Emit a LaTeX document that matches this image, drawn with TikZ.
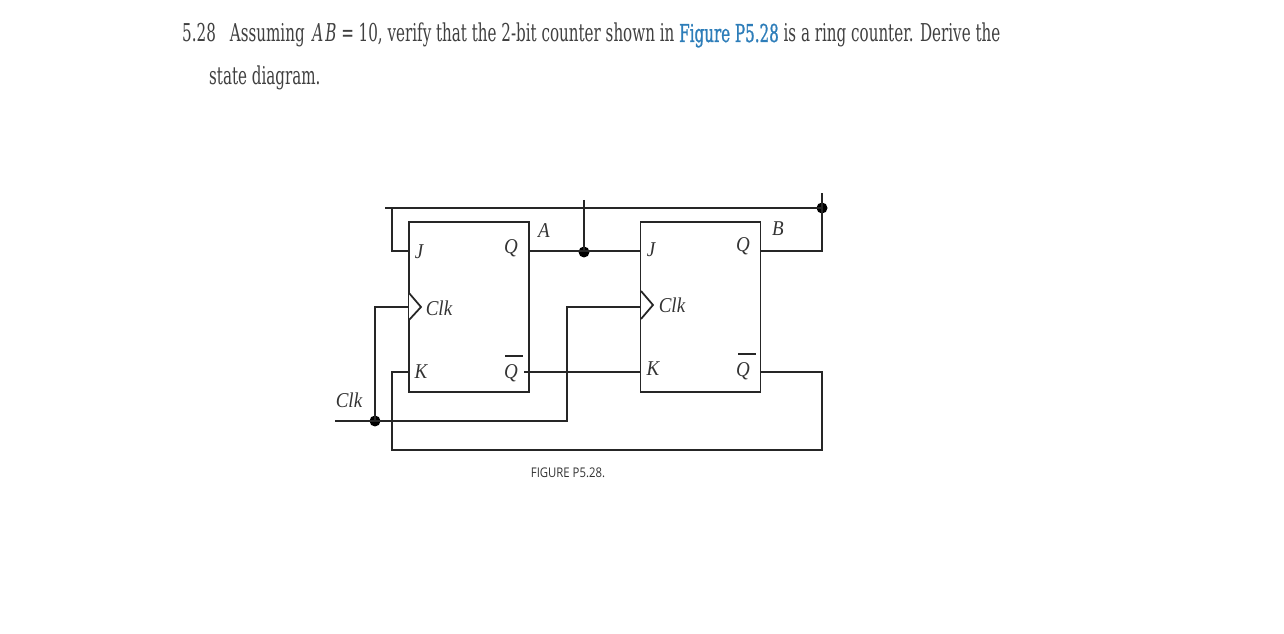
\documentclass[tikz,border=0pt]{standalone}
\usepackage{fontspec}
\setmainfont{DejaVu Serif}
\newfontfamily\labelfont{Liberation Serif}
\newfontfamily\capfont{Open Sans}
\newfontfamily\linkfont[FakeBold=1.2]{DejaVu Serif}
\definecolor{linkblue}{RGB}{45,125,185}
\tikzset{
  wire/.style={line width=1pt,color=black!85},
  ffbox/.style={draw,line width=1pt,color=black!85,minimum width=2.4cm,minimum height=3.4cm,inner sep=0pt},
  dot/.style={circle,fill=black,inner sep=0pt,minimum size=0.22cm},
  pin/.style={font=\labelfont\itshape\fontsize{12}{13}\selectfont,color=black!80,inner sep=0pt,xscale=0.9},
  heading/.style={font=\fontsize{14}{15}\selectfont,color=black!75,anchor=base west,inner sep=0pt,xscale=0.615},
}
\begin{document}
\begin{tikzpicture}[x=0.02cm,y=-0.02cm]
\useasboundingbox (0,0) rectangle (1284,634);
\node[heading] (line1) at (182,42) {5.28\hspace{13pt}Assuming \hspace{2.5pt}\textit{A\hspace{2pt}B} = 10, verify that the 2-bit counter shown in \textcolor{linkblue}{\linkfont Figure P5.28} is a ring counter. Derive the};
\node[heading] (line2) at (209,85) {state diagram.};
% flip-flops
\node[ffbox] (ffa) at (469,307) {};
\node[ffbox] (ffb) at (700.5,307) {};
% pins
\coordinate (ja) at (409,251);
\coordinate (ka) at (409,372);
\coordinate (ca) at (409,307);
\coordinate (qa) at (529,251);
\coordinate (nqa) at (524,372);
\coordinate (jb) at (641,251);
\coordinate (kb) at (641,372);
\coordinate (cb) at (641,307);
\coordinate (qb) at (760,251);
\coordinate (nqb) at (760,372);
% bus
\coordinate (busl) at (385,208);
\coordinate (busj) at (392,208);
\coordinate (stuba) at (584,200);
\coordinate (stubb) at (822,193);
\coordinate (retk) at (392,450);
\coordinate (retq) at (822,450);
\coordinate (clkin) at (335,421);
\coordinate (clkb) at (567,421);
\node[dot] (busdot) at (822,208) {};
\node[dot] (adot) at (584,252) {};
\node[dot] (clkdot) at (375,421) {};
\draw[wire] (busl) -- (busdot.center);
\draw[wire] (busj) |- (ja);
\draw[wire] (qa) -- (jb);
\draw[wire] (stuba) -- (adot.center);
\draw[wire] (qb) -| (stubb);
\draw[wire] (clkin) -- (clkb) |- (cb);
\draw[wire] (clkdot.center) |- (ca);
\draw[wire] (nqa) -- (kb);
\draw[wire] (ka) -| (retk) -- (retq) |- (nqb);
% clock marks
\draw[wire,fill=white] (409,293) -- (421,307) -- (409,320);
\draw[wire,fill=white] (641,291) -- (653,305) -- (641,319);
% labels
\node[pin] (la) at (419,252) {J};
\node[pin] (lb) at (511,248) {Q};
\node[pin] (lc) at (439,308) {Clk};
\node[pin] (ld) at (421,372) {K};
\node[pin] (le) at (511,373) {Q};
\draw[wire] (505,356) -- (523,356);
\node[pin] (lf) at (544,231) {A};
\node[pin] (lg) at (651,250) {J};
\node[pin] (lh) at (743,246) {Q};
\node[pin] (li) at (672,305) {Clk};
\node[pin] (lj) at (653,369) {K};
\node[pin] (lk) at (743,371) {Q};
\draw[wire] (738,354) -- (756,354);
\node[pin] (ll) at (778,229) {B};
\node[pin] (lm) at (349,400) {Clk};
\node[font=\capfont\fontsize{7.6}{9}\selectfont,color=black!80,inner sep=0pt,xscale=0.85] (cap) at (568,473) {FIGURE P5.28.};
\end{tikzpicture}
\end{document}
